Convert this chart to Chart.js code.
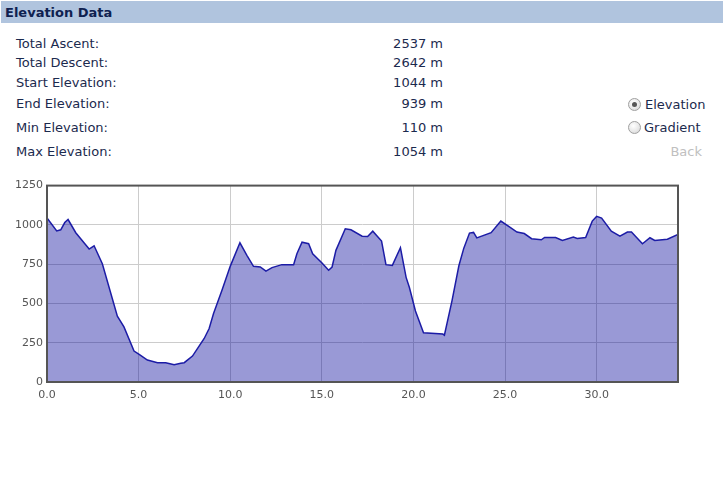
<!DOCTYPE html>
<html>
<head>
<meta charset="utf-8">
<script src="https://cdn.jsdelivr.net/npm/chart.js@4/dist/chart.umd.min.js"></script>
<style>
    body { margin: 0; background: #fff; font-family: "DejaVu Sans", Verdana, sans-serif; font-size: 13px; color: #1b2a4e; }
    .header { position: absolute; left: 1px; top: 1px; width: 722px; height: 22px; background: #b0c4de; }
    .header span { position: absolute; left: 4px; top: 4px; font-weight: bold; color: #0f2150; line-height: 16px; }
    .row { position: absolute; line-height: 16px; white-space: nowrap; }
    .label { left: 16px; }
    .value { right: 280px; text-align: right; }
    .radio { position: absolute; left: 628px; width: 11px; height: 11px; border: 1px solid #a0a0a0; border-radius: 50%;
             background: radial-gradient(circle at 40% 35%, #ffffff 0%, #e6e6e6 60%, #cfcfcf 100%); }
    .radio.checked::after { content: ""; position: absolute; left: 3px; top: 3px; width: 5px; height: 5px; border-radius: 50%; background: #555; }
    .back { color: #c0c0c0; }
    #chartBox { position: absolute; left: 0; top: 175px; width: 723px; height: 230px; }
</style>
</head>
<body>
<div class="header"><span>Elevation Data</span></div>
<div id="stats"></div>

<div class="radio checked" style="top:98px"></div>
<div class="row" style="left:645px; top:97px">Elevation</div>
<div class="radio" style="top:121px"></div>
<div class="row" style="left:644px; top:120px">Gradient</div>
<div class="row back" style="right:21px; top:144px">Back</div>

<div id="chartBox"><canvas id="elevationChart"></canvas></div>

<script>
// summary table
const statLabels = ['Total Ascent:', 'Total Descent:', 'Start Elevation:', 'End Elevation:', 'Min Elevation:', 'Max Elevation:'];
const statValues = ['2537 m', '2642 m', '1044 m', '939 m', '110 m', '1054 m'];
const statRowTops = [36, 55, 75, 96, 120, 144];

// profile (km, m)
const distanceKm = [
    0, 0.53, 0.75, 0.97, 1.15, 1.57, 2.3, 2.57, 3.02, 3.84,
    4.2, 4.75, 5.03, 5.48, 6.03, 6.48, 6.94, 7.3, 7.49, 7.94,
    8.31, 8.58, 8.85, 9.09, 9.55, 10.0, 10.53, 10.91, 11.27, 11.64,
    11.95, 12.28, 12.82, 13.46, 13.64, 13.92, 14.28, 14.5, 15.01, 15.37,
    15.56, 15.77, 16.28, 16.59, 17.2, 17.5, 17.78, 18.26, 18.5, 18.85,
    19.29, 19.6, 19.78, 20.11, 20.55, 21.6, 21.69, 22.11, 22.48, 22.75,
    23.06, 23.28, 23.46, 24.24, 24.77, 25.3, 25.65, 26.05, 26.45, 26.98,
    27.16, 27.76, 28.13, 28.73, 28.94, 29.4, 29.76, 30.0, 30.27, 30.8,
    31.27, 31.68, 31.9, 32.5, 32.91, 33.17, 33.86, 34.44
];
const elevationM = [
    1044, 962, 969, 1015, 1034, 950, 846, 867, 753, 419,
    351, 197, 176, 140, 123, 123, 110, 120, 123, 165,
    230, 277, 340, 436, 584, 736, 886, 806, 736, 732,
    706, 728, 747, 747, 816, 890, 880, 816, 757, 711,
    732, 838, 975, 969, 928, 926, 960, 897, 747, 742,
    855, 666, 601, 452, 314, 305, 298, 520, 740, 852,
    948, 952, 917, 950, 1024, 982, 954, 945, 912, 905,
    920, 920, 901, 922, 914, 920, 1024, 1054, 1043, 960,
    928, 954, 954, 880, 918, 901, 909, 939
];
const yTicks = [0, 250, 500, 750, 1000, 1250];
const xStep = 5;

const stats = document.getElementById('stats');
statLabels.forEach((txt, i) => {
    stats.insertAdjacentHTML('beforeend',
        '<div class="row label" style="top:' + statRowTops[i] + 'px">' + txt + '</div>' +
        '<div class="row value" style="top:' + statRowTops[i] + 'px">' + statValues[i] + '</div>');
});

// frame round the plot area
const frame = {
    id: 'frame',
    afterDraw(chart) {
        const a = chart.chartArea, c = chart.ctx;
        c.save();
        c.strokeStyle = '#555';
        c.lineWidth = 2;
        c.strokeRect(a.left, a.top, a.right - a.left, a.bottom - a.top);
        c.restore();
    }
};

const ctx = document.getElementById('elevationChart').getContext('2d');
new Chart(ctx, {
    type: 'line',
    data: {
        datasets: [{
            data: distanceKm.map((d, i) => ({ x: d, y: elevationM[i] })),
            borderColor: '#1c1ca6',
            borderWidth: 1.5,
            backgroundColor: 'rgba(0, 0, 153, 0.4)',
            fill: 'origin',
            pointRadius: 0,
            tension: 0
        }]
    },
    options: {
        responsive: true,
        maintainAspectRatio: false,
        animation: false,
        layout: { padding: { top: 10, right: 45, left: 0, bottom: 0 } },
        plugins: { legend: { display: false }, tooltip: { enabled: false } },
        scales: {
            x: {
                type: 'linear',
                min: 0,
                max: distanceKm[distanceKm.length - 1],
                border: { display: false },
                grid: { color: '#cccccc', drawTicks: false },
                ticks: {
                    stepSize: xStep,
                    padding: 7,
                    color: '#555',
                    font: { family: 'DejaVu Sans', size: 11 },
                    callback: v => v.toFixed(1)
                },
                afterBuildTicks: s => { s.ticks = s.ticks.filter(t => t.value % xStep === 0); },
                afterFit: s => { s.height = 23; }
            },
            y: {
                min: yTicks[0],
                max: yTicks[yTicks.length - 1],
                border: { display: false },
                grid: { color: '#cccccc', drawTicks: false },
                ticks: {
                    stepSize: yTicks[1] - yTicks[0],
                    padding: 4,
                    color: '#555',
                    font: { family: 'DejaVu Sans', size: 11 },
                    callback: v => String(v)
                },
                afterFit: s => { s.width = 47; }
            }
        }
    },
    plugins: [frame]
});
</script>
</body>
</html>
